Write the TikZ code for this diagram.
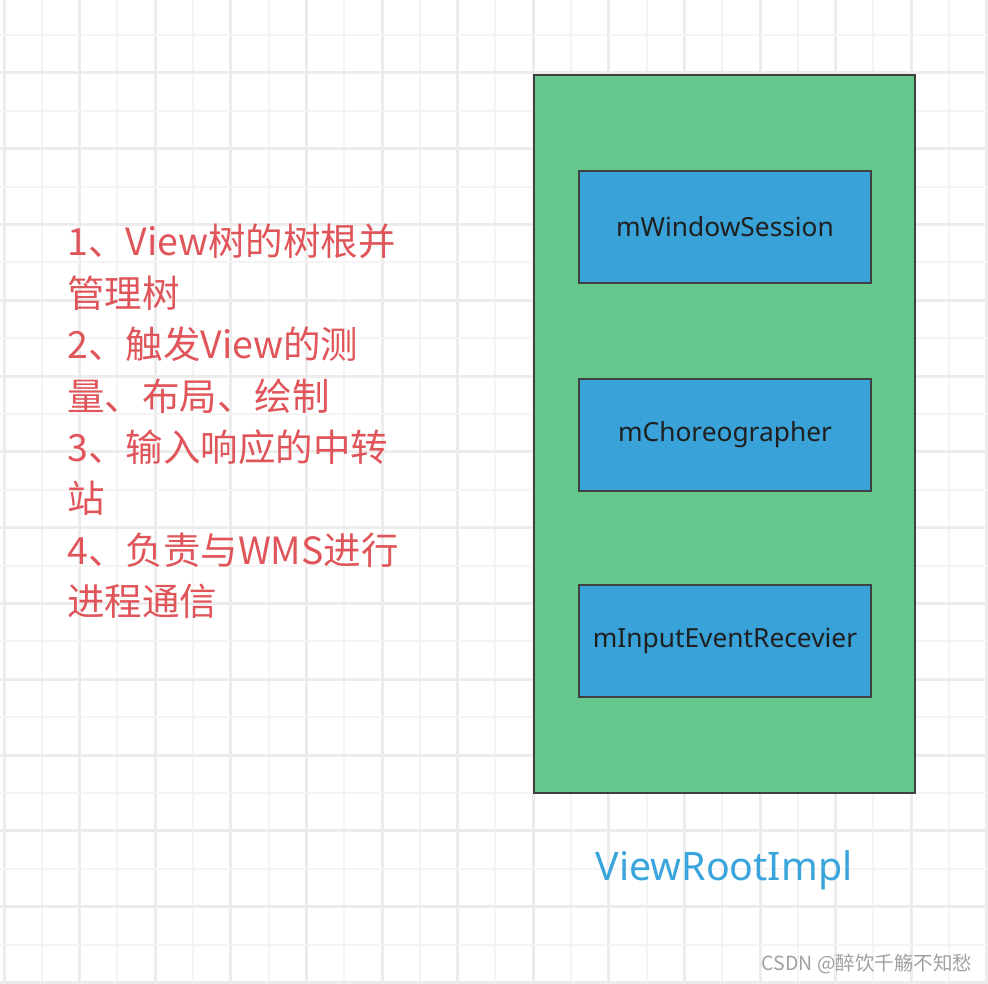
\documentclass[tikz,border=0pt]{standalone}
\usepackage{fontspec}
\setmainfont{Noto Sans}
\newfontfamily\cjk{Noto Sans CJK SC}
\newfontfamily\latin{Noto Sans}
\definecolor{gridthin}{HTML}{F4F4F4}
\definecolor{gridthick}{HTML}{ECECEC}
\definecolor{rootgreen}{HTML}{66C78C}
\definecolor{boxblue}{HTML}{38A2D9}
\definecolor{boxline}{HTML}{404040}
\definecolor{notered}{HTML}{E0555A}
\definecolor{titleblue}{HTML}{3AA5DC}
\definecolor{wmgray}{HTML}{A0A0A0}
\tikzset{
  rootbox/.style={draw=boxline, line width=1.5pt, fill=rootgreen, inner sep=0pt},
  fieldbox/.style={draw=boxline, line width=1.5pt, fill=boxblue, inner sep=0pt,
    minimum width=292pt, minimum height=112pt, font=\latin\fontsize{26.3}{30}\selectfont, text=black!88},
  notetext/.style={text=notered, align=left, inner sep=0pt, font=\cjk\fontsize{37.5}{51.4}\selectfont},
  titletext/.style={text=titleblue, inner sep=0pt, font=\latin\fontsize{39.3}{46}\selectfont},
  wmtext/.style={text=wmgray, inner sep=0pt, font=\cjk\fontsize{19.5}{22}\selectfont}
}
\begin{document}
\begin{tikzpicture}[x=1pt,y=-1pt]
\useasboundingbox (0,0) rectangle (988,984);
\fill[white] (0,0) rectangle (988,984);
% grid
\foreach \k in {0,...,26}{
  \pgfmathsetmacro\xx{4+37.8*\k}
  \ifodd\k
    \draw[gridthin, line width=2pt] (\xx,0) -- (\xx,984);
  \else
    \draw[gridthick, line width=3pt] (\xx,0) -- (\xx,984);
  \fi
}
\foreach \k in {0,...,25}{
  \pgfmathsetmacro\yy{35+37.9*\k}
  \ifodd\k
    \draw[gridthick, line width=3pt] (0,\yy) -- (988,\yy);
  \else
    \draw[gridthin, line width=2pt] (0,\yy) -- (988,\yy);
  \fi
}
% container
\node[rootbox, minimum width=381pt, minimum height=718pt] (root) at (724.5,434) {};
\node[fieldbox] (session) at (725,227) {mWindowSession};
\node[fieldbox] (choreo) at (725,435) {mChoreographer};
\node[fieldbox] (input) at (725,641) {mInputEventRecevier};
\node[titletext] (title) at (724,870) {ViewRootImpl};
% notes
\node[notetext, anchor=north west] (notes) at (67,224) {1、View树的树根并\\管理树\\2、触发View的测\\量、布局、绘制\\3、输入响应的中转\\站\\4、负责与WMS进行\\进程通信};
\node[wmtext] (wm) at (867,964) {CSDN @醉饮千觞不知愁};
\end{tikzpicture}
\end{document}
